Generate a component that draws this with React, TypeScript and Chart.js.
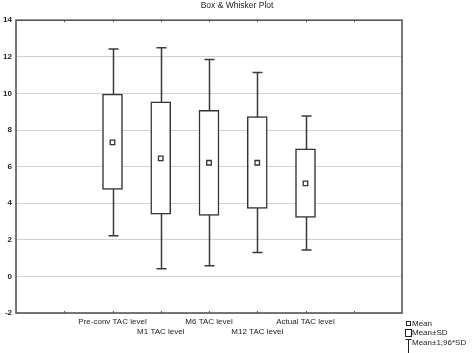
import React, { useEffect, useRef } from "react";
import { Chart, registerables } from "chart.js";

Chart.register(...registerables);

const categories = ["Pre-conv TAC level", "M1 TAC level", "M6 TAC level", "M12 TAC level", "Actual TAC level"];
const positions = [2, 3, 4, 5, 6];
const means = [7.32, 6.45, 6.21, 6.21, 5.08];
const sdLow = [4.75, 3.40, 3.33, 3.72, 3.22];
const sdHigh = [9.96, 9.54, 9.08, 8.74, 6.97];
const ciLow = [2.22, 0.42, 0.58, 1.31, 1.44];
const ciHigh = [12.42, 12.49, 11.85, 11.14, 8.76];
const yTicks = [-2, 0, 2, 4, 6, 8, 10, 12, 14];
const title = "Box & Whisker Plot";
const legendLabels = ["Mean", "Mean\u00b1SD", "Mean\u00b11,96*SD"];

const FONT = "'Liberation Sans', Arial, sans-serif";
const DARK = "#333333";

const whiskerPlugin = {
  id: "whiskers",
  beforeDatasetsDraw(chart: any) {
    const { ctx, chartArea, scales } = chart;
    ctx.save();
    ctx.strokeStyle = "#3a3a3a";
    ctx.lineWidth = 1.5;
    positions.forEach((p, i) => {
      const x = Math.round(scales.x.getPixelForValue(p)) + 0.5;
      const yTop = scales.y.getPixelForValue(ciHigh[i]);
      const yBot = scales.y.getPixelForValue(ciLow[i]);
      ctx.beginPath();
      ctx.moveTo(x, yTop);
      ctx.lineTo(x, yBot);
      ctx.moveTo(x - 5, yTop);
      ctx.lineTo(x + 5, yTop);
      ctx.moveTo(x - 5, yBot);
      ctx.lineTo(x + 5, yBot);
      ctx.stroke();
    });
    ctx.strokeStyle = "#555555";
    ctx.lineWidth = 1.6;
    ctx.strokeRect(chartArea.left, chartArea.top, chartArea.right - chartArea.left, chartArea.bottom - chartArea.top);
    ctx.lineWidth = 1;
    for (let v = 1; v <= 7; v++) {
      const x = Math.round(scales.x.getPixelForValue(v)) + 0.5;
      ctx.beginPath();
      ctx.moveTo(x, chartArea.top);
      ctx.lineTo(x, chartArea.top + 2);
      ctx.moveTo(x, chartArea.bottom);
      ctx.lineTo(x, chartArea.bottom - 2);
      ctx.stroke();
    }
    ctx.restore();
  },
  afterDraw(chart: any) {
    const { ctx, chartArea } = chart;
    const lx = chartArea.right + 4;
    const tx = chartArea.right + 10;
    ctx.save();
    ctx.strokeStyle = "#222";
    ctx.fillStyle = "#222";
    ctx.font = `8px ${FONT}`;
    ctx.textBaseline = "middle";
    ctx.textAlign = "left";
    ctx.lineWidth = 1;
    ctx.strokeRect(lx + 0.5, chartArea.bottom + 8.5, 4, 4);
    ctx.fillText(legendLabels[0], tx, chartArea.bottom + 10.5);
    ctx.strokeRect(lx - 0.5, chartArea.bottom + 16.5, 6, 7);
    ctx.fillText(legendLabels[1], tx, chartArea.bottom + 20);
    ctx.beginPath();
    ctx.moveTo(lx - 0.5, chartArea.bottom + 26.5);
    ctx.lineTo(lx + 5.5, chartArea.bottom + 26.5);
    ctx.moveTo(lx + 2.5, chartArea.bottom + 26.5);
    ctx.lineTo(lx + 2.5, chartArea.bottom + 40);
    ctx.stroke();
    ctx.fillText(legendLabels[2], tx, chartArea.bottom + 29.5);
    ctx.restore();
  },
};

export default function App() {
  const ref = useRef<HTMLCanvasElement>(null);
  useEffect(() => {
    const chart = new Chart(ref.current as HTMLCanvasElement, {
      type: "bar",
      data: {
        datasets: [
          {
            type: "bar",
            label: "Mean\u00b1SD",
            data: positions.map((p, i) => ({ x: p, y: [sdLow[i], sdHigh[i]] })) as any,
            backgroundColor: "#ffffff",
            borderColor: DARK,
            borderWidth: 1.5,
            borderSkipped: false,
            barThickness: 20,
            order: 2,
          } as any,
          {
            type: "scatter",
            label: "Mean",
            data: positions.map((p, i) => ({ x: p, y: means[i] })),
            pointStyle: "rect",
            radius: 3.2,
            backgroundColor: "#ffffff",
            borderColor: DARK,
            borderWidth: 1.3,
            order: 1,
          } as any,
        ],
      },
      options: {
        animation: false,
        responsive: false,
        maintainAspectRatio: false,
        layout: { padding: 0 },
        plugins: {
          legend: { display: false },
          tooltip: { enabled: false },
          title: {
            display: true,
            text: title,
            color: "#222",
            font: { family: FONT, size: 8.5, weight: "normal" },
            padding: { top: 1, bottom: 9 },
          },
        },
        scales: {
          x: {
            type: "linear",
            min: 0,
            max: 8,
            offset: false,
            afterBuildTicks: (scale: any) => {
              scale.ticks = [0, 1, 2, 3, 4, 5, 6, 7, 8].map((v) => ({ value: v }));
            },
            afterFit: (scale: any) => {
              scale.height = 40;
            },
            grid: { display: false, drawTicks: false, offset: false },
            border: { display: false },
            ticks: {
              autoSkip: false,
              maxRotation: 0,
              padding: 4,
              color: "#222",
              font: { family: FONT, size: 8, lineHeight: 1.2 },
              callback: (value: any) => {
                const i = positions.indexOf(Number(value));
                if (i < 0) return "";
                return i % 2 === 0 ? categories[i] : ["", categories[i]];
              },
            },
          },
          y: {
            type: "linear",
            min: -2,
            max: 14,
            afterBuildTicks: (scale: any) => {
              scale.ticks = yTicks.map((v) => ({ value: v }));
            },
            afterFit: (scale: any) => {
              scale.width = 16;
            },
            grid: { color: "#d2d2d2", lineWidth: 1, drawTicks: false },
            border: { display: false },
            ticks: {
              padding: 4,
              color: "#222",
              font: { family: FONT, size: 8, weight: "bold" },
            },
          },
          yRight: {
            type: "linear",
            position: "right",
            min: -2,
            max: 14,
            afterFit: (scale: any) => {
              scale.width = 72;
            },
            grid: { display: false, drawTicks: false },
            border: { display: false },
            ticks: { display: false },
          },
        },
      } as any,
      plugins: [whiskerPlugin],
    });
    return () => chart.destroy();
  }, []);
  return (
    <div style={{ position: "fixed", left: 0, top: 0, width: 474, height: 353, background: "#fff" }}>
      <canvas ref={ref} width={474} height={353} style={{ display: "block" }} />
    </div>
  );
}
